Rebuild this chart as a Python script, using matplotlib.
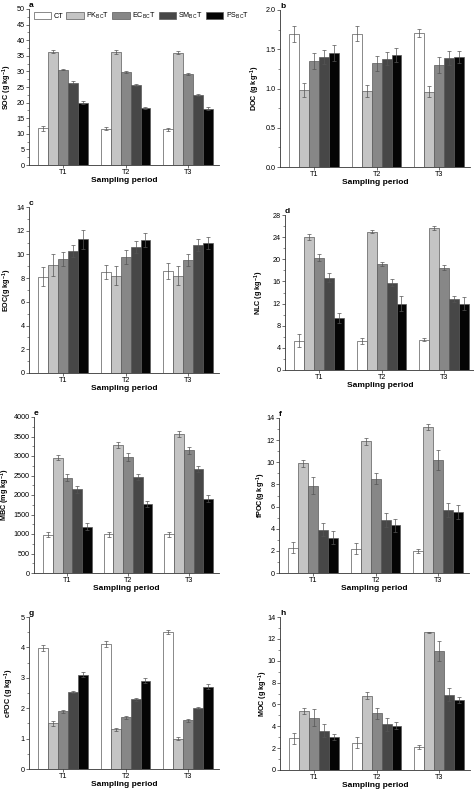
import matplotlib
matplotlib.use("Agg")
import matplotlib.pyplot as plt
import numpy as np
from matplotlib.ticker import MultipleLocator, FormatStrFormatter
from matplotlib.patches import Patch

plt.rcParams['font.family'] = ['Liberation Sans', 'DejaVu Sans']
plt.rcParams['mathtext.default'] = 'regular'

periods = ["T1", "T2", "T3"]
treatments = ["CT", "PK$_{BC}$T", "EC$_{BC}$T", "SM$_{BC}$T", "PS$_{BC}$T"]
colors = ["#ffffff", "#c4c4c4", "#878787", "#474747", "#050505"]

# values per treatment: [T1, T2, T3]
soc = [[11.8, 11.6, 11.5], [36.3, 36.2, 36.0], [30.6, 29.8, 29.3], [26.4, 25.7, 22.4], [20.0, 18.2, 18.1]]
soc_err = [[0.8, 0.5, 0.5], [0.5, 0.5, 0.4], [0.3, 0.2, 0.3], [0.5, 0.4, 0.4], [0.6, 0.4, 0.5]]

doc = [[1.69, 1.70, 1.71], [0.98, 0.97, 0.96], [1.35, 1.32, 1.30], [1.40, 1.38, 1.39], [1.45, 1.43, 1.40]]
doc_err = [[0.10, 0.10, 0.05], [0.09, 0.08, 0.07], [0.10, 0.10, 0.10], [0.09, 0.08, 0.09], [0.10, 0.09, 0.08]]

eoc = [[8.1, 8.5, 8.6], [9.1, 8.2, 8.2], [9.6, 9.8, 9.5], [10.3, 10.6, 10.8], [11.3, 11.2, 11.0]]
eoc_err = [[0.8, 0.6, 0.7], [0.9, 0.8, 0.8], [0.6, 0.6, 0.5], [0.5, 0.5, 0.5], [0.8, 0.6, 0.5]]

nlc = [[5.3, 5.2, 5.5], [24.0, 25.0, 25.7], [20.3, 19.1, 18.5], [16.7, 15.8, 12.8], [9.4, 12.0, 12.0]]
nlc_err = [[1.2, 0.5, 0.3], [0.5, 0.3, 0.4], [0.6, 0.4, 0.4], [0.8, 0.6, 0.5], [0.9, 1.3, 1.2]]

mbc = [[980, 990, 990], [2960, 3290, 3570], [2440, 2980, 3150], [2150, 2460, 2660], [1190, 1770, 1900]]
mbc_err = [[60, 70, 70], [60, 80, 80], [90, 100, 90], [90, 80, 80], [90, 80, 90]]

fpoc = [[2.3, 2.2, 2.0], [9.9, 11.9, 13.2], [7.9, 8.5, 10.2], [3.9, 4.8, 5.7], [3.2, 4.3, 5.5]]
fpoc_err = [[0.5, 0.5, 0.2], [0.3, 0.3, 0.3], [0.8, 0.5, 0.9], [0.6, 0.6, 0.6], [0.6, 0.6, 0.6]]

cpoc = [[3.97, 4.10, 4.50], [1.50, 1.30, 1.00], [1.90, 1.70, 1.60], [2.54, 2.30, 2.00], [3.10, 2.90, 2.70]]
cpoc_err = [[0.10, 0.10, 0.07], [0.08, 0.05, 0.04], [0.05, 0.04, 0.04], [0.03, 0.05, 0.04], [0.08, 0.08, 0.08]]

moc = [[2.9, 2.5, 2.1], [5.4, 6.8, 12.6], [4.8, 5.2, 10.9], [3.6, 4.2, 6.9], [3.0, 4.05, 6.4]]
moc_err = [[0.5, 0.5, 0.15], [0.3, 0.3, 0.05], [0.8, 0.5, 0.9], [0.6, 0.6, 0.6], [0.3, 0.3, 0.3]]

W, H = 474, 791
fig = plt.figure(figsize=(W / 100, H / 100), dpi=100)

# (letter, data, err, ylabel, ymax, step, fmt, left, top, bottom, ylabel_px)
panels = [
    ("a", soc, soc_err, "SOC (g kg$^{-1}$)", 50, 5, "%d", 29, 9, 165, 11),
    ("b", doc, doc_err, "DOC (g kg$^{-1}$)", 2.0, 0.5, "%.1f", 280, 10, 167, 258),
    ("c", eoc, eoc_err, "EOC(g kg$^{-1}$)", 14, 2, "%d", 29, 207, 373, 11),
    ("d", nlc, nlc_err, "NLC (g kg$^{-1}$)", 28, 4, "%d", 285, 215, 370, 262),
    ("e", mbc, mbc_err, "MBC (mg kg$^{-1}$)", 4000, 500, "%d", 34, 417, 573, 9),
    ("f", fpoc, fpoc_err, "fPOC(g kg$^{-1}$)", 14, 2, "%d", 279, 418, 573, 265),
    ("g", cpoc, cpoc_err, "cPOC (g kg$^{-1}$)", 5, 1, "%d", 29, 617, 769, 12),
    ("h", moc, moc_err, "MOC (g kg$^{-1}$)", 14, 2, "%d", 280, 617, 770, 266),
]

x = np.arange(len(periods))
bw = 0.16
fs = 5.2
axw = 190

for letter, data, err, ylabel, ymax, step, fmt, left, top, bottom, ylx in panels:
    w = axw - (left - 29) if left < 100 else axw
    ax = fig.add_axes([left / W, 1 - bottom / H, w / W, (bottom - top) / H])
    for i in range(len(treatments)):
        ax.bar(x + (i - 2) * bw, data[i], width=bw, color=colors[i],
               edgecolor="#5a5a5a", linewidth=0.5, yerr=err[i],
               error_kw=dict(ecolor="#555555", elinewidth=0.5, capsize=1.3, capthick=0.5),
               label=treatments[i], zorder=2)
    ax.set_xlim(-0.55, 2.5)
    ax.set_ylim(0, ymax)
    ax.yaxis.set_major_locator(MultipleLocator(step))
    ax.yaxis.set_minor_locator(MultipleLocator(step / 2))
    ax.yaxis.set_major_formatter(FormatStrFormatter(fmt))
    ax.set_xticks(x)
    ax.set_xticklabels(periods)
    ax.tick_params(axis="both", which="major", labelsize=fs, length=2, width=0.5, pad=1.2, color="#333333")
    ax.tick_params(axis="y", which="minor", length=1.2, width=0.4, color="#333333")
    for s in ("top", "right"):
        ax.spines[s].set_visible(False)
    for s in ("left", "bottom"):
        ax.spines[s].set_linewidth(0.6)
        ax.spines[s].set_color("#333333")
    ax.set_ylabel(ylabel, fontsize=fs, fontweight="bold")
    # right edge of rotated label box at ylx + 3.5 px
    ax.yaxis.set_label_coords((ylx + 3.5 - left) / w, 0.5)
    ax.set_xlabel("Sampling period", fontsize=fs + 0.8, fontweight="bold", labelpad=0.5)
    ax.text(0.0, 1.0, letter, transform=ax.transAxes, fontsize=fs + 0.8,
            fontweight="bold", ha="left", va="bottom")
    if letter == "a":
        handles = [Patch(facecolor=c, edgecolor="#5a5a5a", linewidth=0.5) for c in colors]
        ax.legend(handles, treatments, loc="upper left", bbox_to_anchor=(0.015, 1.0),
                  ncol=5, fontsize=fs, frameon=False, handlelength=2.4, handleheight=1.0,
                  handletextpad=0.3, columnspacing=0.45, borderaxespad=0.2, borderpad=0.1)

fig.savefig("out.png", dpi=100)
